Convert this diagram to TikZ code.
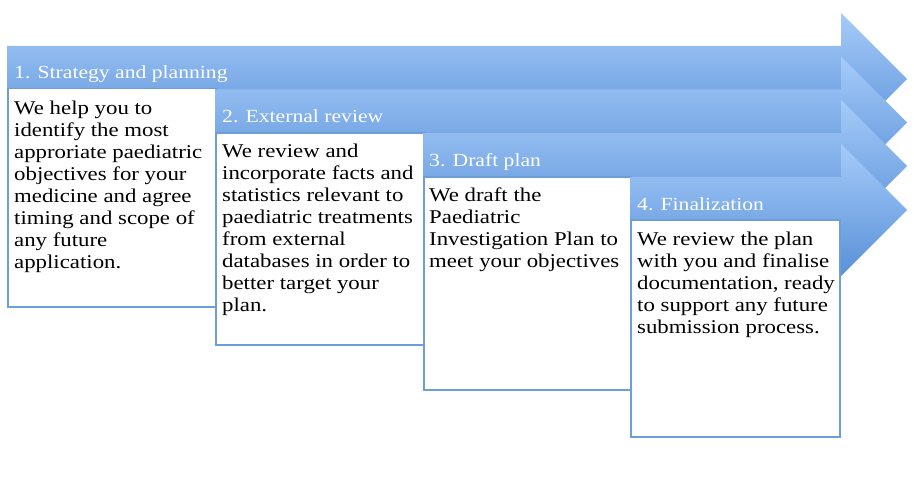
\documentclass[tikz,border=0pt]{standalone}
\usepackage{fontspec}
\setmainfont{Liberation Serif}[FakeStretch=1.17]
\usepackage{tikz}
\usetikzlibrary{positioning, calc}
\definecolor{bandtop}{HTML}{A6CBF9}
\definecolor{bandbottom}{HTML}{5890D8}
\definecolor{panelline}{HTML}{6E9ED9}

\begin{document}
\begin{tikzpicture}[x=1pt, y=-1pt,
            band/.style={top color=bandtop, bottom color=bandbottom, draw=none},
            panel/.style={rectangle, draw=panelline, line width=1.5pt, fill=white, anchor=north west, inner sep=0pt},
            stagetitle/.style={anchor=base west, inner sep=0pt, text=white, font=\fontsize{18.5}{22}\selectfont},
            stagetext/.style={anchor=north west, inner sep=0pt, align=left, font=\fontsize{19.5}{22}\selectfont}
        ]
            \useasboundingbox (0,0) rectangle (914,487);

% Stage 1
            \shade[band] (7,46) -- (841,46) -- (841,13) -- (907,79) -- (841,145) -- (841,112) -- (7,112) -- cycle;
            \node[stagetitle] (title1) at (14,79) {1. Strategy and planning};
            \node[panel, minimum width=208pt, minimum height=218pt] (panel1) at (7,88) {};
            \node[stagetext] (text1) at (14,100.5) {We help you to\\identify the most\\approriate paediatric\\objectives for your\\medicine and agree\\timing and scope of\\any future\\application.};

% Stage 2
            \shade[band] (215,89.5) -- (841,89.5) -- (841,56.5) -- (907,122.5) -- (841,188.5) -- (841,155.5) -- (215,155.5) -- cycle;
            \node[stagetitle] (title2) at (222,123) {2. External review};
            \node[panel, minimum width=208pt, minimum height=212pt] (panel2) at (215,132) {};
            \node[stagetext] (text2) at (222,143.5) {We review and\\incorporate facts and\\statistics relevant to\\paediatric treatments\\from external\\databases in order to\\better target your\\plan.};

% Stage 3
            \shade[band] (423,133) -- (841,133) -- (841,100) -- (907,166) -- (841,232) -- (841,199) -- (423,199) -- cycle;
            \node[stagetitle] (title3) at (429,166) {3. Draft plan};
            \node[panel, minimum width=207pt, minimum height=213pt] (panel3) at (423,176) {};
            \node[stagetext] (text3) at (429,187.5) {We draft the\\Paediatric\\Investigation Plan to\\meet your objectives};

% Stage 4
            \shade[band] (630,177) -- (841,177) -- (841,144) -- (907,210) -- (841,276) -- (841,243) -- (630,243) -- cycle;
            \node[stagetitle] (title4) at (637,210) {4. Finalization};
            \node[panel, minimum width=209pt, minimum height=217pt] (panel4) at (630,219) {};
            \node[stagetext] (text4) at (637,231.5) {We review the plan\\with you and finalise\\documentation, ready\\to support any future\\submission process.};

        \end{tikzpicture}
\end{document}
